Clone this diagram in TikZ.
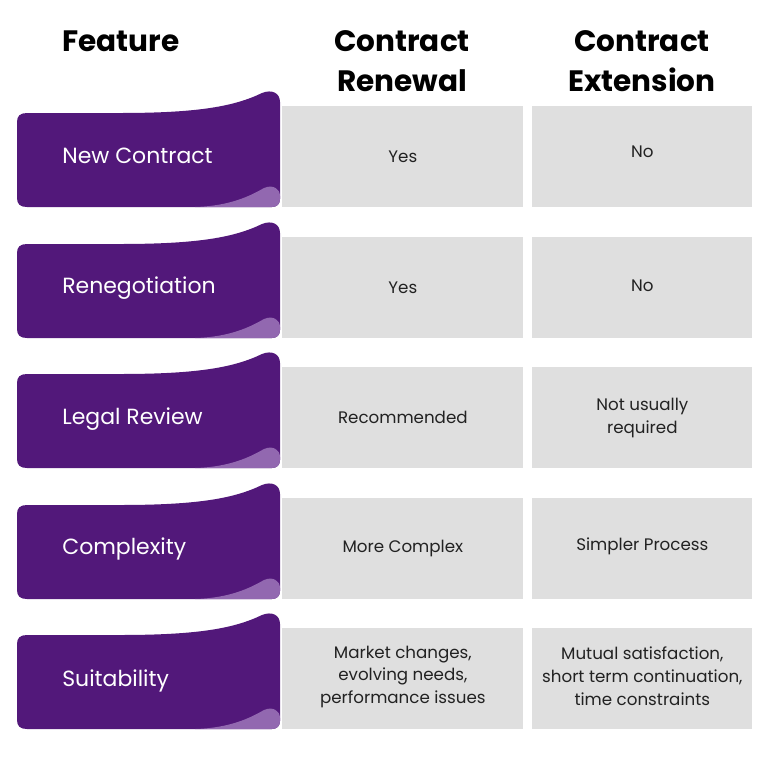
\documentclass[tikz,border=0pt]{standalone}
\usepackage{fontspec}
\setmainfont{Poppins}
\definecolor{tabpurple}{RGB}{82,24,122}
\definecolor{foldpurple}{RGB}{146,104,176}
\definecolor{cellgray}{RGB}{223,223,223}
\definecolor{celltext}{RGB}{34,34,34}
\begin{document}
\begin{tikzpicture}[x=0.02cm, y=-0.02cm,
    head/.style={font=\fontsize{16.8}{22.8}\selectfont\bfseries, align=center, text=black},
    lbl/.style={font=\fontsize{12.5}{14}\selectfont, text=white, anchor=west, inner sep=0pt},
    cellA/.style={fill=cellgray, minimum width=4.82cm, minimum height=2.02cm, anchor=north west, inner sep=0pt},
    cellB/.style={fill=cellgray, minimum width=4.4cm, minimum height=2.02cm, anchor=north west, inner sep=0pt},
    txt/.style={font=\fontsize{9.5}{13}\selectfont, text=celltext, align=center},
    tab/.pic={
        \fill[tabpurple] (27,101) -- (272,101) .. controls (277,101) and (280,98) .. (280,93)
            -- (280,-4) .. controls (280,-13) and (272,-17) .. (262,-13)
            .. controls (235,0) and (200,7) .. (120,7) -- (27,7)
            .. controls (20,7) and (17,10) .. (17,16) -- (17,92)
            .. controls (17,98) and (20,101) .. (27,101) -- cycle;
        \fill[foldpurple] (195,101) .. controls (230,100) and (250,90) .. (264,82)
            .. controls (273,78) and (280,83) .. (280,90) -- (280,93)
            .. controls (280,98) and (277,101) .. (272,101) -- cycle;
    }]
    \useasboundingbox (0,0) rectangle (768,768);

    % headers
    \node[head] (hfeat) at (121,41) {Feature};
    \node[head] (hren) at (402,61) {Contract\\Renewal};
    \node[head] (hext) at (642,61) {Contract\\Extension};

    % row 1
    \node[cellA] (r1a) at (282,106) {};
    \node[cellB] (r1b) at (532,106) {};
    \pic at (0,106) {tab};
    \node[lbl] (l1) at (62,156) {New Contract};
    \node[txt] (t1a) at (r1a.center) {Yes};
    \node[txt] (t1b) at ([yshift=0.1cm]r1b.center) {No};

    % row 2
    \node[cellA] (r2a) at (282,237) {};
    \node[cellB] (r2b) at (532,237) {};
    \pic at (0,237) {tab};
    \node[lbl] (l2) at (62,288) {Renegotiation};
    \node[txt] (t2a) at (r2a.center) {Yes};
    \node[txt] (t2b) at ([yshift=0.05cm]r2b.center) {No};

    % row 3
    \node[cellA] (r3a) at (282,367) {};
    \node[cellB] (r3b) at (532,367) {};
    \pic at (0,367) {tab};
    \node[lbl] (l3) at (62,419) {Legal Review};
    \node[txt] (t3a) at (r3a.center) {Recommended};
    \node[txt] (t3b) at (r3b.center) {Not usually\\required};

    % row 4
    \node[cellA] (r4a) at (282,498) {};
    \node[cellB] (r4b) at (532,498) {};
    \pic at (0,498) {tab};
    \node[lbl] (l4) at (62,549) {Complexity};
    \node[txt] (t4a) at (r4a.center) {More Complex};
    \node[txt] (t4b) at ([yshift=0.05cm]r4b.center) {Simpler Process};

    % row 5
    \node[cellA] (r5a) at (282,628) {};
    \node[cellB] (r5b) at (532,628) {};
    \pic at (0,628) {tab};
    \node[lbl] (l5) at (62,681) {Suitability};
    \node[txt] (t5a) at ([yshift=0.04cm]r5a.center) {Market changes,\\evolving needs,\\performance issues};
    \node[txt] (t5b) at ([yshift=0.05cm]r5b.center) {Mutual satisfaction,\\short term continuation,\\time constraints};
\end{tikzpicture}
\end{document}
